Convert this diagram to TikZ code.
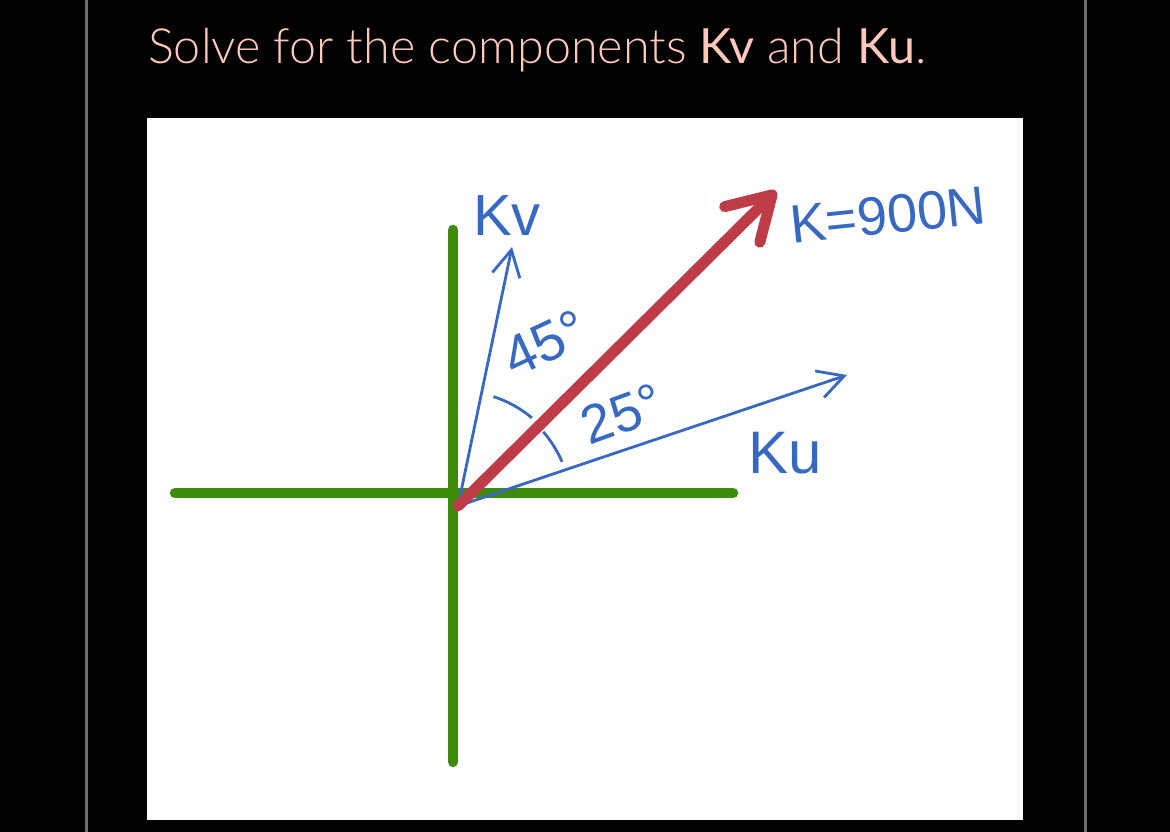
\documentclass[tikz,border=0pt]{standalone}
\usepackage{fontspec}
\setmainfont{Lato}[UprightFont=* Light, BoldFont=*]
\newfontfamily\hand{Liberation Sans}
\usetikzlibrary{arrows.meta}
\definecolor{peach}{RGB}{255,200,185}
\definecolor{penblue}{RGB}{55,105,195}
\definecolor{penred}{RGB}{190,60,72}
\definecolor{pengreen}{RGB}{60,140,10}
\definecolor{rulegray}{RGB}{110,110,110}

\begin{document}
\begin{tikzpicture}[x=1pt, y=1pt]
	\tikzset{ax/.style={pengreen, line width=10.5pt, line cap=round},
	v/.style={penblue, line width=2.8pt, -{Straight Barb[length=26pt, width=28pt]}},
	ang/.style={penblue, line width=2.8pt},
	hw/.style={penblue, inner sep=0pt, font=\hand\fontsize{54}{54}\selectfont}};

	\useasboundingbox (0,0) rectangle (1170,832);
	\fill[black] (0,0) rectangle (1170,832);
	\draw[rulegray, line width=3pt] (86,0) -- (86,832);
	\draw[rulegray, line width=3pt] (1085,0) -- (1085,832);
	\fill[white] (147,12) rectangle (1023,714);

	\node[peach, anchor=base west, inner sep=0pt, font=\fontsize{48.5}{48.5}\selectfont] (title) at (148,768)
		{Solve for the components \textbf{Kv} and \textbf{Ku}.};

	\coordinate (o) at (458,326);
	\coordinate (xl) at (175,339);
	\coordinate (xr) at (733,339);
	\coordinate (yt) at (453,602);
	\coordinate (yb) at (453,70);
	\coordinate (kv) at (512,585);
	\coordinate (k) at (776,641);
	\coordinate (ku) at (847,457);

	\draw[ax] (xl) -- (xr);
	\draw[ax] (yt) -- (yb);
	\draw[v] (o) -- (kv);
	\draw[v] (o) -- (ku);
	\draw[penred, line width=11pt, line cap=round,
		-{Straight Barb[length=42pt, width=50pt, line cap=round, line join=round]}] (o) -- (k);

	\draw[ang] (o) ++(50:115) arc[start angle=50, end angle=72, radius=115];
	\draw[ang] (o) ++(23:113) arc[start angle=23, end angle=41, radius=113];

	\node[hw, font=\hand\fontsize{58}{58}\selectfont] (kvl) at (507,616) {Kv};
	\node[hw, rotate=6] (kl) at (888,617) {K=900N};
	\node[hw, font=\hand\fontsize{60}{60}\selectfont] (kul) at (785,379) {Ku};
	\node[hw, rotate=25, font=\hand\fontsize{56}{56}\selectfont] (a45) at (545,489) {45°};
	\node[hw, rotate=20, font=\hand\fontsize{54}{54}\selectfont] (a25) at (622,418) {25°};
\end{tikzpicture}
\end{document}
